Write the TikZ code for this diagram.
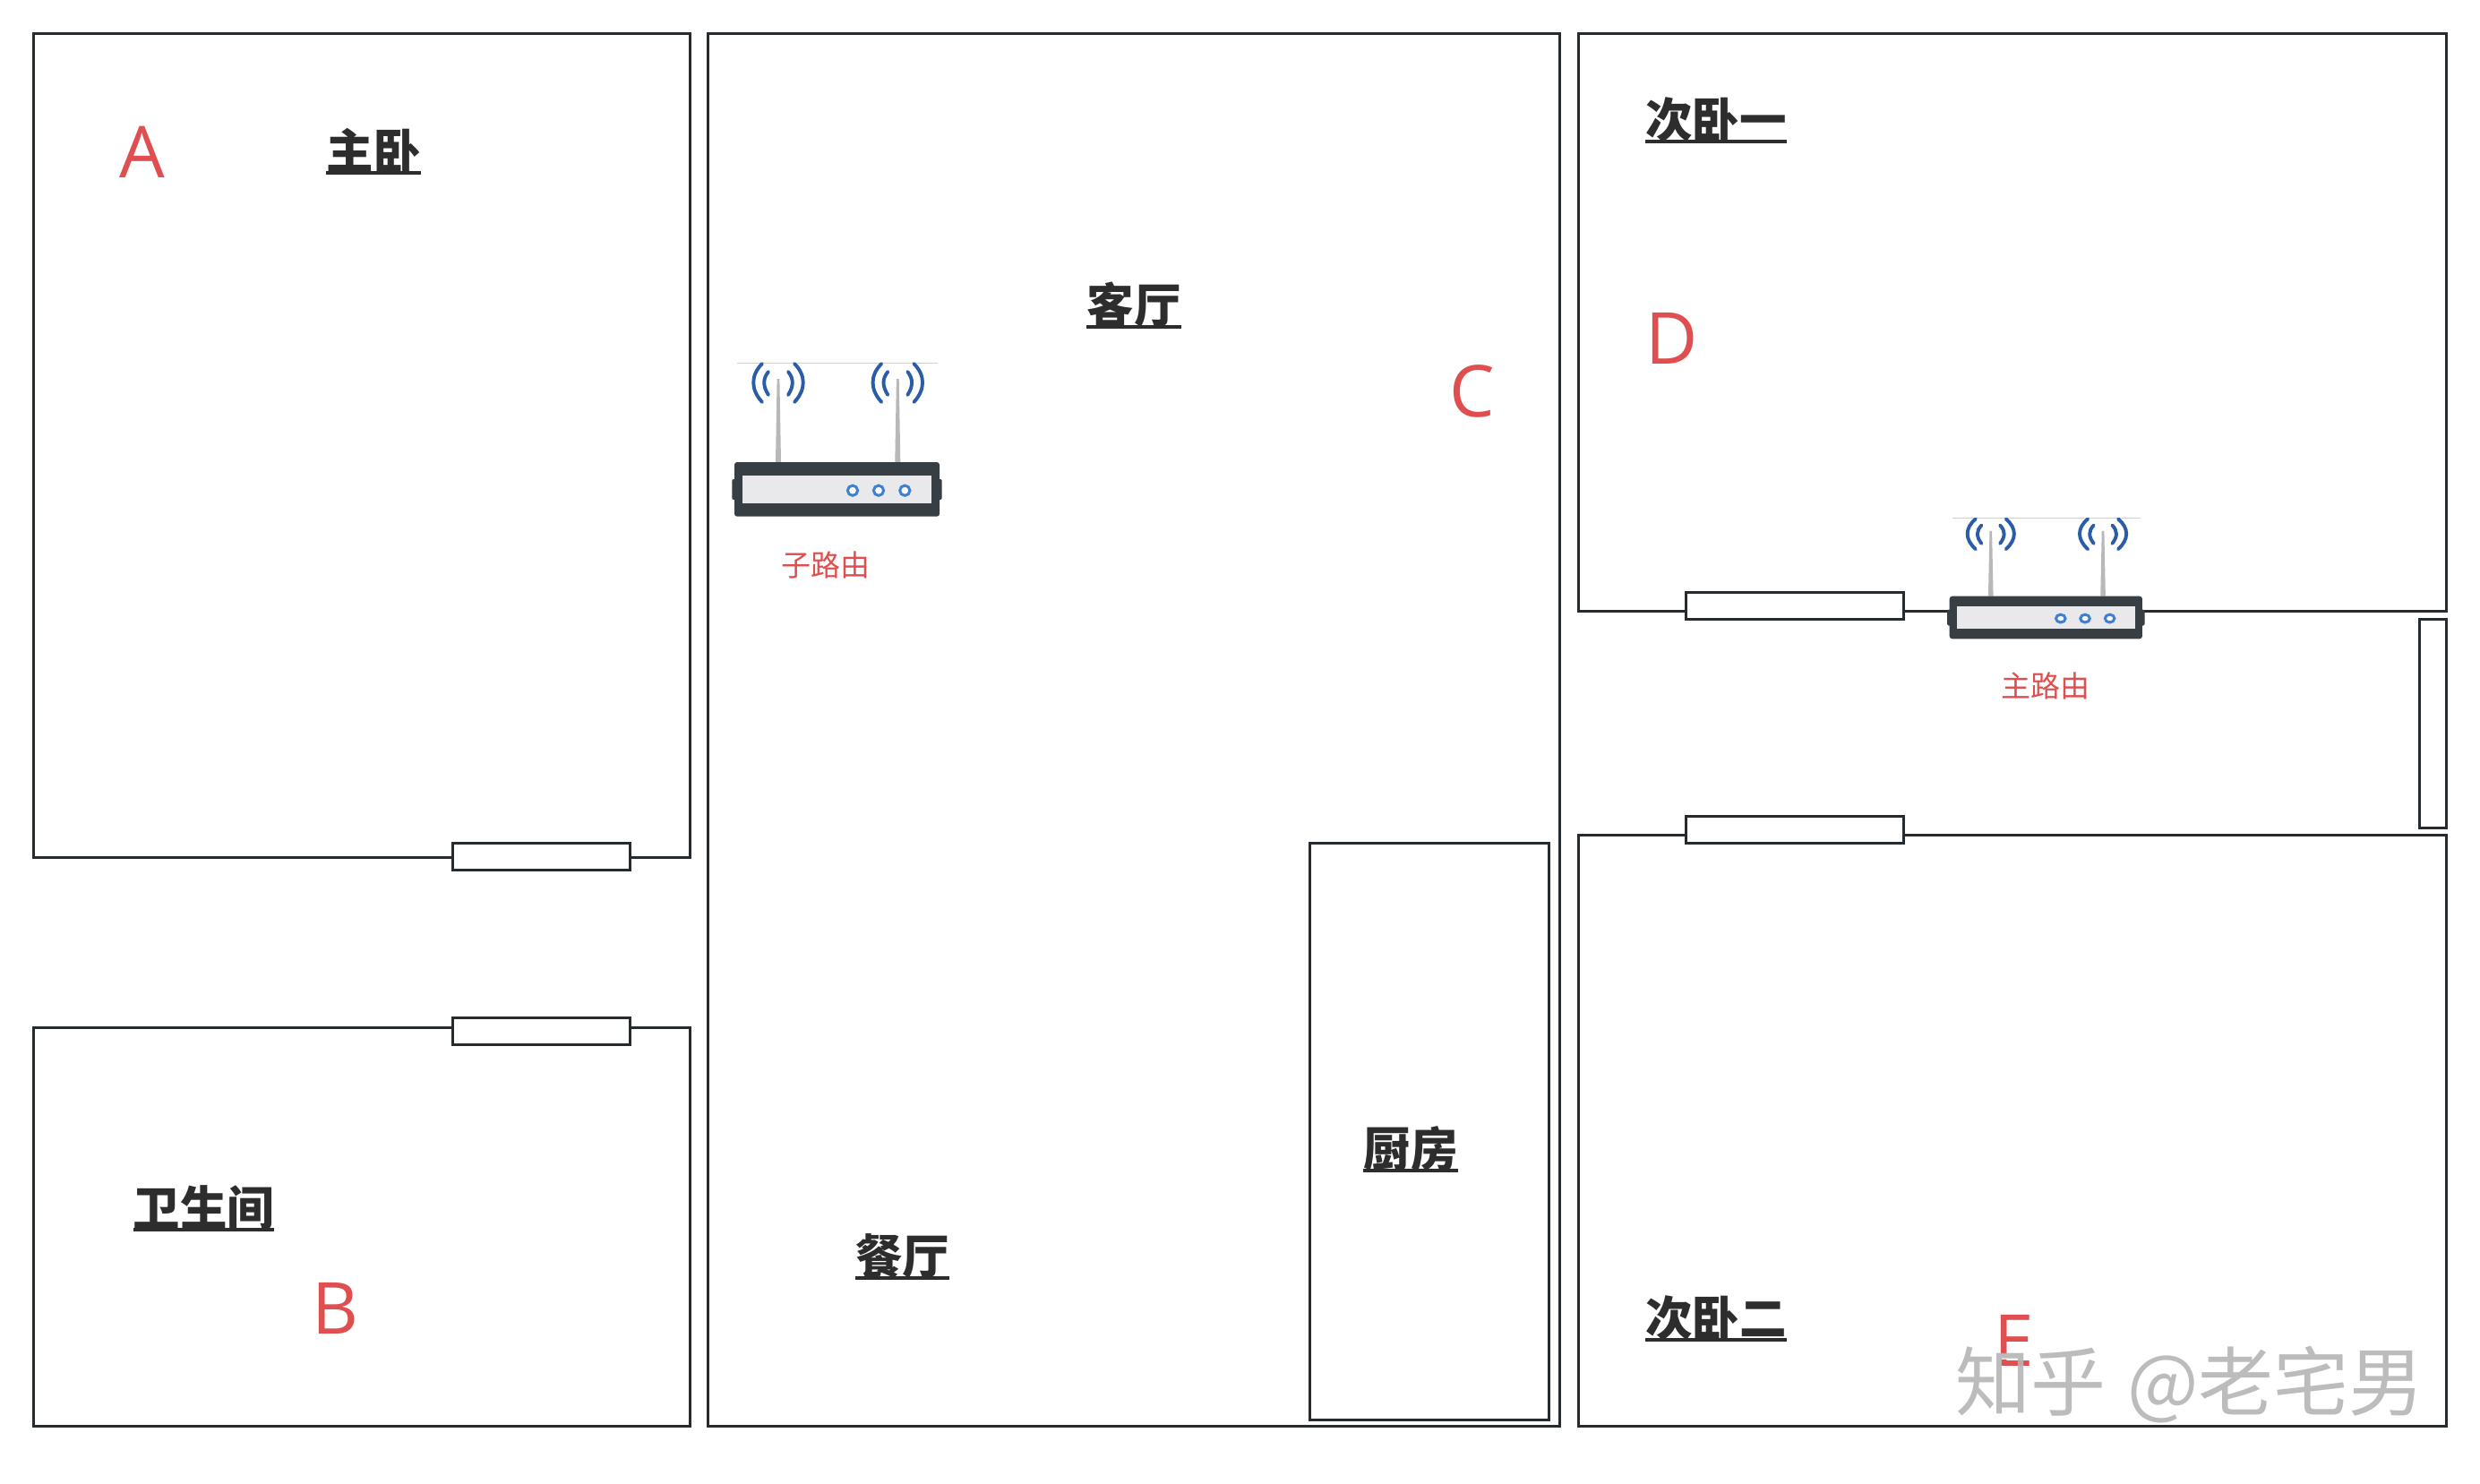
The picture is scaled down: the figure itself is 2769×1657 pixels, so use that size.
\documentclass[tikz,border=0pt]{standalone}
\usepackage{fontspec}
\setmainfont{Open Sans}
\newfontfamily\cjk{Noto Sans CJK SC}
\definecolor{wallc}{HTML}{262B30}
\definecolor{inkc}{HTML}{2D2D2D}
\definecolor{redc}{HTML}{DF4F4F}
\definecolor{bodyc}{HTML}{373E44}
\definecolor{screenc}{HTML}{E9E9EB}
\definecolor{wavec}{HTML}{2B5CA8}
\definecolor{ledc}{HTML}{3F80D4}
\definecolor{antc}{HTML}{B8B8B8}
\definecolor{markc}{HTML}{B5B5B5}
\tikzset{
  wall/.style={draw=wallc,line width=3pt,fill=white,line join=miter},
  roomlabel/.style={inner sep=0pt,text=inkc,anchor=base,font=\cjk\bfseries\fontsize{52.5}{52.5}\selectfont},
  underl/.style={draw=inkc,line width=3.2pt},
  letter/.style={inner sep=0pt,text=redc,anchor=base,font=\fontsize{80}{80}\selectfont},
  routerlabel/.style={inner sep=0pt,text=redc,anchor=base,font=\cjk\fontsize{33}{33}\selectfont},
  wave/.style={draw=wavec,line width=3.9pt,line cap=round},
}
% origin x, origin y, xscale, yscale
\newcommand{\myrouter}[4]{%
\begin{scope}[shift={(#1,#2)},xscale=#3,yscale=#4]
  \draw[draw=black!18,line width=1pt] (3,-111) -- (227,-111);
  \foreach \ax in {49,182.3}{
    \fill[antc] (\ax-1.4,-93) -- (\ax+1.4,-93) -- (\ax+3,0) -- (\ax-3,0) -- cycle;
    \begin{scope}[shift={(\ax,-91)}]
      \draw[wave] (-18,24) .. controls (-31,10) and (-31,-6) .. (-18,-19);
      \draw[wave] (18,24) .. controls (31,10) and (31,-6) .. (18,-19);
      \draw[wave] (-11,16) .. controls (-17.4,6) and (-17.4,-2) .. (-11,-10);
      \draw[wave] (11,16) .. controls (17.4,6) and (17.4,-2) .. (11,-10);
    \end{scope}
  }
  \fill[bodyc,rounded corners=2pt] (-2.7,19) rectangle (231.7,42);
  \fill[bodyc,rounded corners=3pt] (0,0) rectangle (229,60.7);
  \fill[screenc] (9,15) rectangle (220,46);
  \foreach \lx in {132,161,190.3}{
    \draw[draw=ledc,line width=3pt,fill=white] (\lx,31.7) circle[radius=5.6pt];
  }
\end{scope}}
\begin{document}
\begin{tikzpicture}[x=1pt,y=-1pt]
\useasboundingbox (0,0) rectangle (2769,1657);
\fill[white] (0,0) rectangle (2769,1657);
% rooms
\draw[wall] (37.5,37.5) rectangle (770,957);
\draw[wall] (37.5,1147) rectangle (770,1592.5);
\draw[wall] (790,37.5) rectangle (1741,1592.5);
\draw[wall] (1462,941.7) rectangle (1729,1585);
\draw[wall] (1762.7,37.5) rectangle (2731,682);
\draw[wall] (1762.7,932.7) rectangle (2731,1592.5);
% doors
\draw[wall] (505,941.7) rectangle (703.5,971.7);
\draw[wall] (505,1136.7) rectangle (703.5,1166.7);
\draw[wall] (1882,661.7) rectangle (2125.7,691.7);
\draw[wall] (1882,911.7) rectangle (2125.7,941.7);
\draw[wall] (2701,691) rectangle (2731,924);
% routers
\myrouter{820}{516}{1}{1}
\myrouter{2176.7}{665.7}{0.94}{0.784}
\node[routerlabel] (sub) at (921.7,643.5) {子路由};
\node[routerlabel] (main) at (2284,778.5) {主路由};
% room labels
\node[roomlabel] (r1) at (417,188) {主卧};
\node[roomlabel] (r2) at (1266,360) {客厅};
\node[roomlabel] (r3) at (1916,153) {次卧一};
\node[roomlabel] (r4) at (227.5,1368) {卫生间};
\node[roomlabel] (r5) at (1007.5,1422) {餐厅};
\node[roomlabel] (r6) at (1575,1302) {厨房};
\node[roomlabel] (r7) at (1916,1491) {次卧二};
\foreach \n in {r1,r2,r3,r4,r5,r6,r7}{
  \draw[underl] ([yshift=-5pt]\n.base west) -- ([yshift=-5pt]\n.base east);
}
% letters
\node[letter] (la) at (159,198) {A};
\node[letter] (lb) at (374,1489) {B};
\node[letter] (lc) at (1644,465) {C};
\node[letter] (ld) at (1867,406) {D};
\node[letter] (le) at (2249,1525) {E};
\fill[white] (2228,1511.7) rectangle (2270,1518.3);
% watermark
\node[inner sep=0pt,anchor=base west,text=markc,font=\cjk\fontsize{84}{84}\selectfont,opacity=0.9] (wm) at (2183,1574) {知乎\hspace{24pt}@老宅男};
\end{tikzpicture}
\end{document}
